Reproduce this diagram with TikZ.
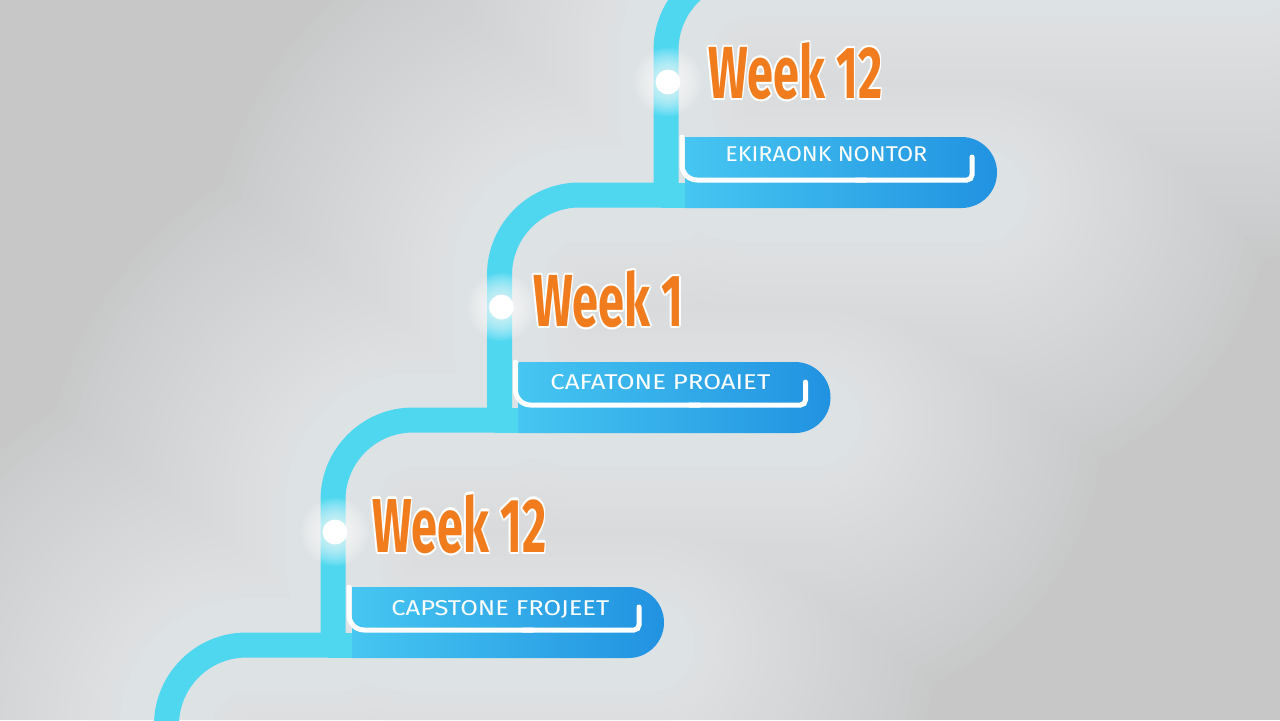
\documentclass[tikz,border=0pt]{standalone}
\usepackage{fontspec}
\setmainfont{Fira Sans}
\usepackage{graphicx}
\definecolor{bgray}{HTML}{C7C7C7}
\definecolor{glowc}{HTML}{F4F9FC}
\definecolor{bandc}{HTML}{4FD7F0}
\definecolor{pillL}{HTML}{46C6F1}
\definecolor{pillR}{HTML}{2192E1}
\definecolor{wkorange}{HTML}{F07C1E}
\newcommand\hcopy[3]{\rlap{\smash{\kern#1\raisebox{#2}{\textcolor{white}{#3}}}}}
\newcommand\halotext[1]{\leavevmode
  \hcopy{1.3pt}{0pt}{#1}\hcopy{-1.3pt}{0pt}{#1}%
  \hcopy{0pt}{1.3pt}{#1}\hcopy{0pt}{-1.3pt}{#1}%
  \hcopy{.9pt}{.9pt}{#1}\hcopy{-.9pt}{.9pt}{#1}%
  \hcopy{.9pt}{-.9pt}{#1}\hcopy{-.9pt}{-.9pt}{#1}%
  \textcolor{wkorange}{#1}}
\begin{document}
\begin{tikzpicture}[x=0.02cm,y=-0.02cm,
  band/.style={line width=0.5cm, draw=bandc},
  glowlayer/.style={line width=#1, draw=glowc, rounded corners=1.6cm, line cap=round, line join=round},
  whiteline/.style={line width=0.1cm, draw=white, line cap=round},
  dotnode/.style={circle, fill=white, minimum size=0.5cm, inner sep=0pt},
  weeklabel/.style={inner sep=0pt, anchor=south west, font=\bfseries\fontsize{40}{40}\selectfont},
  boxlabel/.style={inner sep=0pt, anchor=west, text=white, font=\fontsize{12}{12}\selectfont}]
\useasboundingbox (0,0) rectangle (1280,720);
\fill[bgray] (0,0) rectangle (1280,720);
\begin{scope}
\clip (0,0) rectangle (1280,720);
% soft glow halo
\foreach \k in {1,...,26} {
  \pgfmathsetmacro\w{0.42*\k+0.6}
  \pgfmathsetmacro\o{max(0.045, 0.17-0.03*\k)}
  \draw[glowlayer=\w cm, opacity=\o]
    (1250,-30) -- (666,-30) -- (666,195) -- (981,195)
    (669.5,195) -- (499.5,195) -- (499.5,420) -- (814.5,420)
    (503,420) -- (333,420) -- (333,645) -- (648,645)
    (336.5,645) -- (166.5,645) -- (166.5,870) -- (481.5,870);
}
% cyan staircase bands
\foreach \vx/\hy in {666/195, 499.5/420, 333/645, 166.5/870} {
  \draw[band, rounded corners=1.6cm] (\vx+170,\hy-225) -- (\vx,\hy-225) -- (\vx,\hy);
  \draw[band] (\vx-5,\hy) -- (\vx+300,\hy);
}
% pills, white brackets, dots
\foreach \i/\vx/\hy in {1/666/195, 2/499.5/420, 3/333/645} {
  \shade[left color=pillL, right color=pillR]
    (\vx+19,\hy-58) -- (\vx+295.5,\hy-58) arc[start angle=-90, end angle=90, radius=35.5]
    -- (\vx+19,\hy+13) -- cycle;
  \draw[whiteline, rounded corners=0.3cm] (\vx+16,\hy-58) -- (\vx+16,\hy-15) -- (\vx+200,\hy-15);
  \draw[whiteline, rounded corners=0.1cm] (\vx+190,\hy-15) -- (\vx+306,\hy-15) -- (\vx+306,\hy-38);
  \node[dotnode] (dot\i) at (\vx+2,\hy-113) {};
  \foreach \r in {14,16,...,34} {
    \fill[white, opacity=0.09] (dot\i) circle (\r);
  }
}
\end{scope}
% week labels
\node[weeklabel] (wk1) at (708,100) {\resizebox{3.48cm}{1.12cm}{\halotext{Week 12}}};
\node[weeklabel] (wk2) at (533,328) {\resizebox{3.0cm}{1.12cm}{\halotext{Week 1}}};
\node[weeklabel] (wk3) at (372,554) {\resizebox{3.48cm}{1.16cm}{\halotext{Week 12}}};
% box labels
\node[boxlabel] (bx1) at (725,154) {\resizebox{4.04cm}{0.3cm}{\raisebox{0pt}[\height][0pt]{EKIRAONK NONTOR}}};
\node[boxlabel] (bx2) at (550,382) {\resizebox{4.4cm}{0.3cm}{\raisebox{0pt}[\height][0pt]{CAFATONE PROAIET}}};
\node[boxlabel] (bx3) at (391,608) {\resizebox{4.36cm}{0.3cm}{\raisebox{0pt}[\height][0pt]{CAPSTONE FROJEET}}};
\end{tikzpicture}
\end{document}
